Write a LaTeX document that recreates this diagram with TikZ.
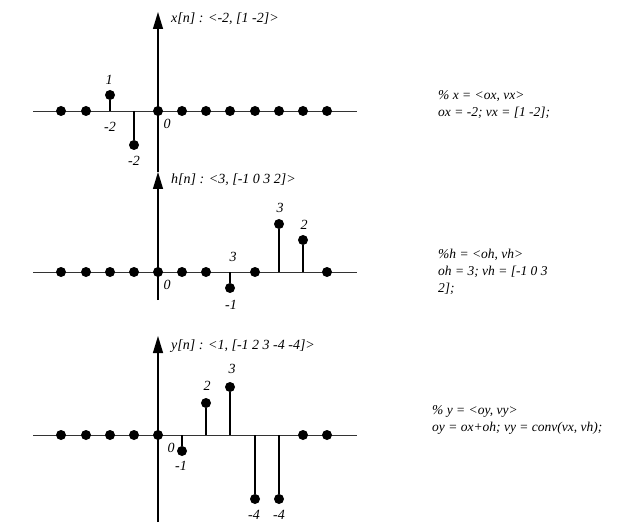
\documentclass[tikz,border=0pt]{standalone}
\usepackage{fontspec}
\setmainfont{Liberation Serif}
\usetikzlibrary{arrows.meta}
\begin{document}
\begin{tikzpicture}[x=1pt,y=-1pt,
  lbl/.style={font=\itshape\fontsize{14}{15}\selectfont,inner sep=1pt},
  txt/.style={font=\itshape\fontsize{13.5}{15}\selectfont,anchor=west,inner sep=0pt},
  dot/.style={circle,fill=black,inner sep=0pt,minimum size=10pt},
  axis/.style={line width=1.2pt},
  haxis/.style={line width=0.9pt,black!80},
  stem/.style={line width=1.5pt}]
\useasboundingbox (0,0) rectangle (636,526);
% ---------- plot 1 ----------
\coordinate (a1t) at (158,12); \coordinate (a1b) at (158,172);
\draw[axis,-{Triangle[length=17pt,width=10pt]}] (a1b) -- (a1t);
\coordinate (h1l) at (33,111); \coordinate (h1r) at (357,111);
\draw[haxis] (h1l) -- (h1r);
\foreach \n/\px in {m4/61,m3/86,z/158,p1/182,p2/206,p3/230,p4/255,p5/279,p6/303,p7/327}
  \node[dot] (d1\n) at (\px,111) {};
\coordinate (s1a) at (110,111); \node[dot] (s1at) at (110,95) {};
\draw[stem] (s1a) -- (s1at);
\coordinate (s1b) at (134,111); \node[dot] (s1bt) at (134,145) {};
\draw[stem] (s1b) -- (s1bt);
\node[lbl] (l1a) at (109,80) {1};
\node[lbl] (l1b) at (110,127) {-2};
\node[lbl] (l1c) at (134,161) {-2};
\node[lbl] (l1z) at (167,124) {0};
\node[lbl,anchor=west] (t1) at (170,19) {x[n] : <-2, [1 -2]>};
\node[txt] (c1a) at (438,96) {\% x = <ox, vx>};
\node[txt] (c1b) at (438,113) {ox = -2; vx = [1 -2];};
% ---------- plot 2 ----------
\coordinate (a2t) at (158,172); \coordinate (a2b) at (158,300);
\draw[axis,-{Triangle[length=17pt,width=10pt]}] (a2b) -- (a2t);
\coordinate (h2l) at (33,272); \coordinate (h2r) at (357,272);
\draw[haxis] (h2l) -- (h2r);
\foreach \n/\px in {m4/61,m3/86,m2/110,m1/134,z/158,p1/182,p2/206,p4/255,p7/327}
  \node[dot] (d2\n) at (\px,272) {};
\coordinate (s2a) at (230,272); \node[dot] (s2at) at (230,288) {};
\draw[stem] (s2a) -- (s2at);
\coordinate (s2b) at (279,272); \node[dot] (s2bt) at (279,224) {};
\draw[stem] (s2b) -- (s2bt);
\coordinate (s2c) at (303,272); \node[dot] (s2ct) at (303,240) {};
\draw[stem] (s2c) -- (s2ct);
\node[lbl] (l2a) at (233,257) {3};
\node[lbl] (l2b) at (231,305) {-1};
\node[lbl] (l2c) at (280,208) {3};
\node[lbl] (l2d) at (304,225) {2};
\node[lbl] (l2z) at (167,285) {0};
\node[lbl,anchor=west] (t2) at (170,180) {h[n] : <3, [-1 0 3 2]>};
\node[txt] (c2a) at (438,255) {\%h = <oh, vh>};
\node[txt] (c2b) at (438,272) {oh = 3; vh = [-1 0 3};
\node[txt] (c2c) at (438,289) {2];};
% ---------- plot 3 ----------
\coordinate (a3t) at (158,336); \coordinate (a3b) at (158,522);
\draw[axis,-{Triangle[length=17pt,width=10pt]}] (a3b) -- (a3t);
\coordinate (h3l) at (33,435); \coordinate (h3r) at (357,435);
\draw[haxis] (h3l) -- (h3r);
\foreach \n/\px in {m4/61,m3/86,m2/110,m1/134,z/158,p6/303,p7/327}
  \node[dot] (d3\n) at (\px,435) {};
\coordinate (s3a) at (182,435); \node[dot] (s3at) at (182,451) {};
\draw[stem] (s3a) -- (s3at);
\coordinate (s3b) at (206,435); \node[dot] (s3bt) at (206,403) {};
\draw[stem] (s3b) -- (s3bt);
\coordinate (s3c) at (230,435); \node[dot] (s3ct) at (230,387) {};
\draw[stem] (s3c) -- (s3ct);
\coordinate (s3d) at (255,435); \node[dot] (s3dt) at (255,499) {};
\draw[stem] (s3d) -- (s3dt);
\coordinate (s3e) at (279,435); \node[dot] (s3et) at (279,499) {};
\draw[stem] (s3e) -- (s3et);
\node[lbl] (l3z) at (171,448) {0};
\node[lbl] (l3a) at (181,466) {-1};
\node[lbl] (l3b) at (207,386) {2};
\node[lbl] (l3c) at (232,369) {3};
\node[lbl] (l3d) at (254,515) {-4};
\node[lbl] (l3e) at (279,515) {-4};
\node[lbl,anchor=west] (t3) at (170,346) {y[n] : <1, [-1 2 3 -4 -4]>};
\node[txt] (c3a) at (432,411) {\% y = <oy, vy>};
\node[txt] (c3b) at (432,428) {oy = ox+oh; vy = conv(vx, vh);};
\end{tikzpicture}
\end{document}
